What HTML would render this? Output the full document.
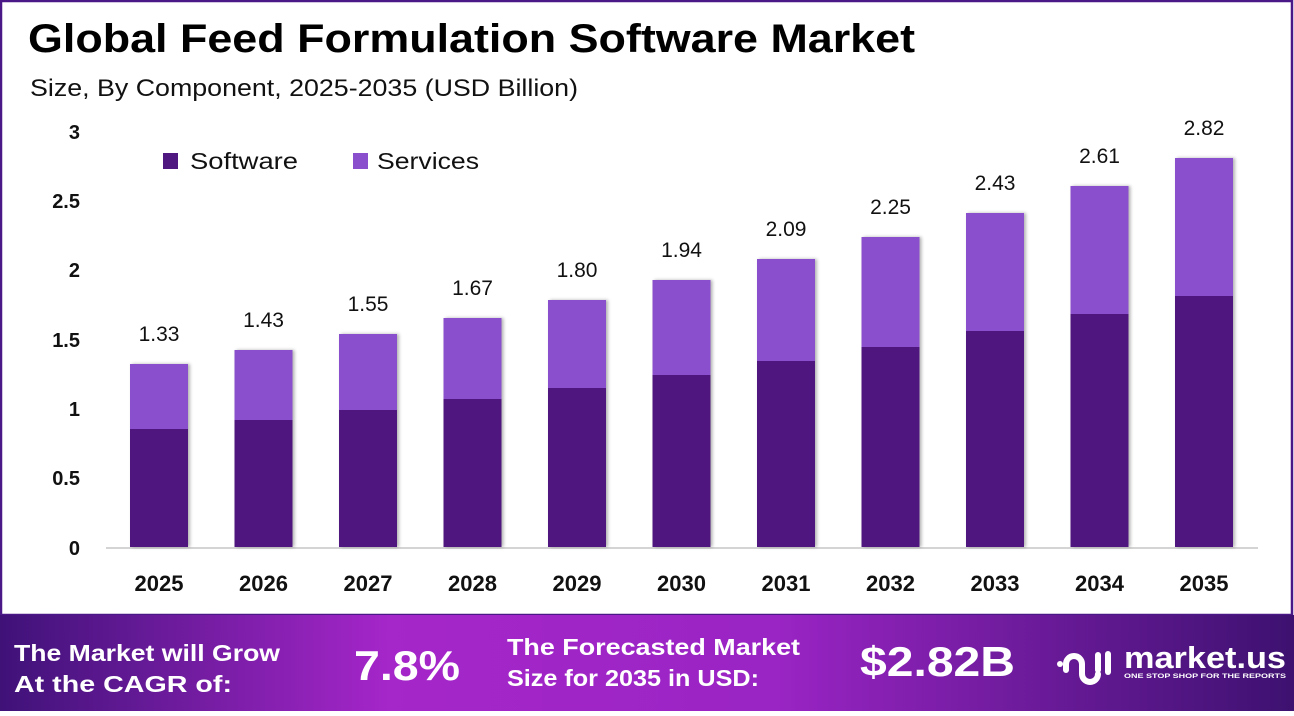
<!DOCTYPE html>
<html><head><meta charset="utf-8"><style>
html,body{margin:0;padding:0;background:#fff}
body{width:1294px;height:711px;overflow:hidden;font-family:"Liberation Sans",sans-serif}
</style></head><body>
<svg width="1294" height="711" viewBox="0 0 1294 711" xmlns="http://www.w3.org/2000/svg" font-family="Liberation Sans, sans-serif">
<defs>
<linearGradient id="bg" x1="0" x2="1" y1="0" y2="0">
<stop offset="0" stop-color="#3f1278"/>
<stop offset="0.3" stop-color="#a526c9"/>
<stop offset="0.6" stop-color="#9a24c4"/>
<stop offset="1" stop-color="#3d1170"/>
</linearGradient>
<filter id="sh" x="-20%" y="-5%" width="140%" height="110%"><feDropShadow dx="2" dy="0" stdDeviation="1.5" flood-color="#000" flood-opacity="0.3"/></filter>
</defs>
<rect x="0" y="0" width="1294" height="711" fill="#fff"/>
<rect x="1" y="1" width="1291" height="614" fill="none" stroke="#4b1887" stroke-width="2.5"/>
<text x="28" y="52" font-size="40" font-weight="bold" fill="#000" textLength="887" lengthAdjust="spacingAndGlyphs">Global Feed Formulation Software Market</text>
<text x="30" y="96" font-size="24" fill="#111" textLength="548" lengthAdjust="spacingAndGlyphs">Size, By Component, 2025-2035 (USD Billion)</text>
<rect x="163" y="153" width="15" height="16" fill="#4f1880"/>
<text x="190" y="169" font-size="23" fill="#111" textLength="108" lengthAdjust="spacingAndGlyphs">Software</text>
<rect x="353" y="153" width="15" height="16" fill="#8a4fcc"/>
<text x="377" y="169" font-size="23" fill="#111" textLength="102" lengthAdjust="spacingAndGlyphs">Services</text>
<g font-size="20" font-weight="bold" fill="#111" text-anchor="end">
<text x="80" y="139">3</text><text x="80" y="208">2.5</text><text x="80" y="277">2</text><text x="80" y="347">1.5</text><text x="80" y="416">1</text><text x="80" y="485">0.5</text><text x="80" y="555">0</text>
</g>
<line x1="106" y1="548" x2="1258" y2="548" stroke="#d4d4d4" stroke-width="2"/>
<g font-size="22" font-weight="bold" fill="#111" text-anchor="middle">
<text x="159" y="591">2025</text><text x="263.5" y="591">2026</text><text x="368" y="591">2027</text><text x="472.5" y="591">2028</text><text x="577" y="591">2029</text><text x="681.5" y="591">2030</text><text x="786" y="591">2031</text><text x="890.5" y="591">2032</text><text x="995" y="591">2033</text><text x="1099.5" y="591">2034</text><text x="1204" y="591">2035</text>
</g>
<g filter="url(#sh)">
<rect x="130" y="364" width="58" height="65" fill="#8a4fcc"/><rect x="130" y="429" width="58" height="118" fill="#4f1880"/>
<rect x="234.5" y="350" width="58" height="70" fill="#8a4fcc"/><rect x="234.5" y="420" width="58" height="127" fill="#4f1880"/>
<rect x="339" y="334" width="58" height="76" fill="#8a4fcc"/><rect x="339" y="410" width="58" height="137" fill="#4f1880"/>
<rect x="443.5" y="318" width="58" height="81" fill="#8a4fcc"/><rect x="443.5" y="399" width="58" height="148" fill="#4f1880"/>
<rect x="548" y="300" width="58" height="88" fill="#8a4fcc"/><rect x="548" y="388" width="58" height="159" fill="#4f1880"/>
<rect x="652.5" y="280" width="58" height="95" fill="#8a4fcc"/><rect x="652.5" y="375" width="58" height="172" fill="#4f1880"/>
<rect x="757" y="259" width="58" height="102" fill="#8a4fcc"/><rect x="757" y="361" width="58" height="186" fill="#4f1880"/>
<rect x="861.5" y="237" width="58" height="110" fill="#8a4fcc"/><rect x="861.5" y="347" width="58" height="200" fill="#4f1880"/>
<rect x="966" y="213" width="58" height="118" fill="#8a4fcc"/><rect x="966" y="331" width="58" height="216" fill="#4f1880"/>
<rect x="1070.5" y="186" width="58" height="128" fill="#8a4fcc"/><rect x="1070.5" y="314" width="58" height="233" fill="#4f1880"/>
<rect x="1175" y="158" width="58" height="138" fill="#8a4fcc"/><rect x="1175" y="296" width="58" height="251" fill="#4f1880"/>
</g>
<g font-size="21" fill="#111" text-anchor="middle">
<text x="159" y="341">1.33</text><text x="263.5" y="327">1.43</text><text x="368" y="311">1.55</text><text x="472.5" y="295">1.67</text><text x="577" y="277">1.80</text><text x="681.5" y="257">1.94</text><text x="786" y="236">2.09</text><text x="890.5" y="214">2.25</text><text x="995" y="190">2.43</text><text x="1099.5" y="163">2.61</text><text x="1204" y="135">2.82</text>
</g>
<rect x="0" y="615" width="1294" height="96" fill="url(#bg)"/>
<g fill="#fff" font-weight="bold">
<text x="14" y="661" font-size="23" textLength="266" lengthAdjust="spacingAndGlyphs">The Market will Grow</text>
<text x="14" y="692" font-size="23" textLength="218" lengthAdjust="spacingAndGlyphs">At the CAGR of:</text>
<text x="354" y="680" font-size="42" textLength="106" lengthAdjust="spacingAndGlyphs">7.8%</text>
<text x="507" y="655" font-size="23" textLength="293" lengthAdjust="spacingAndGlyphs">The Forecasted Market</text>
<text x="507" y="686" font-size="23" textLength="252" lengthAdjust="spacingAndGlyphs">Size for 2035 in USD:</text>
<text x="860" y="676" font-size="42" textLength="155" lengthAdjust="spacingAndGlyphs">$2.82B</text>
<text x="1124" y="668" font-size="31" textLength="162" lengthAdjust="spacingAndGlyphs">market.us</text>
<text x="1124" y="678" font-size="6.5" textLength="162" lengthAdjust="spacingAndGlyphs">ONE STOP SHOP FOR THE REPORTS</text>
</g>
<g fill="none" stroke="#fff" stroke-width="6" stroke-linecap="round">
<path d="M1066 670 v-6 a8 8 0 0 1 16 0 v10 a8 8 0 0 0 16 0"/>
<path d="M1098 670 v-15"/><path d="M1108 672 v-18"/>
</g>
<circle cx="1060" cy="664" r="3" fill="#fff"/>
</svg>
</body></html>
